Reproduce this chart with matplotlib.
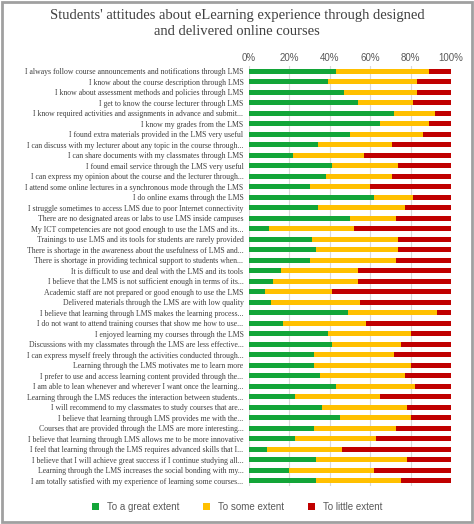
import matplotlib
matplotlib.use("Agg")
import matplotlib.pyplot as plt
from matplotlib.patches import Rectangle

labels = [
"I always follow course announcements and notifications through LMS",
"I know about the course description through LMS",
"I know about assessment methods and policies through LMS",
"I get to know the course lecturer through LMS",
"I know required activities and assignments in advance and submit...",
"I know my grades from the LMS",
"I found extra materials provided in the LMS very useful",
"I can discuss with my lecturer about any topic in the course through...",
"I can share documents with my classmates through LMS",
"I found email service through the LMS very useful",
"I can express my opinion about the course and the lecturer through...",
"I attend some online lectures in a synchronous mode through the LMS",
"I do online exams through the LMS",
"I struggle sometimes to access LMS due to poor Internet connectivity",
"There are no designated areas or labs to use LMS inside campuses",
"My ICT competencies are not good enough to use the LMS and its...",
"Trainings to use LMS and its tools for students are rarely provided",
"There is shortage in the awareness about the usefulness of LMS and...",
"There is shortage in providing technical support to students when...",
"It is difficult to use and deal with the LMS and its tools",
"I believe that the LMS is not sufficient enough in terms of its...",
"Academic staff are not prepared or good enough to use the LMS",
"Delivered materials through the LMS are with low quality",
"I believe that learning through LMS makes the learning process...",
"I do not want to attend training courses that show me how to use...",
"I enjoyed learning my courses through the LMS",
"Discussions with my classmates through the LMS are less effective...",
"I can express myself freely through the activities conducted through...",
"Learning through the LMS motivates me to learn more",
"I prefer to use and access learning content provided through the...",
"I am able to lean whenever and wherever I want once the learning...",
"Learning through the LMS reduces the interaction between students...",
"I will recommend to my classmates to study courses that are...",
"I believe that learning through LMS provides me with the...",
"Courses that are provided through the LMS are more interesting...",
"I believe that learning through LMS allows me to be more innovative",
"I feel that learning through the LMS requires advanced skills that I...",
"I believe that I will achieve great success if I continue studying all...",
"Learning through the LMS increases the social bonding with my...",
"I am totally satisfied with my experience of learning some courses...",
]
great = [43,39,47,54,72,65,50,34,22,41,38,30,62,34,50,10,31,33,30,16,12,8,11,49,17,39,41,32,32,35,43,23,36,45,32,23,9,33,20,33]
cum_some = [89,83,83,81,92,89,86,71,57,74,71,60,81,77,73,52,74,74,73,54,54,41,55,93,58,80,75,72,80,77,82,65,78,80,73,63,46,78,62,75]
some = [c - g for c, g in zip(cum_some, great)]
little = [100 - c for c in cum_some]

plt.rcParams['font.family'] = ['Liberation Serif', 'DejaVu Serif']
fig = plt.figure(figsize=(4.74, 5.24), dpi=100)
fig.patches.append(Rectangle((0.004, 0.004), 0.992, 0.992, transform=fig.transFigure,
                             fill=False, edgecolor='#a0a0a0', linewidth=2))
ax = fig.add_axes([249/474, 1-486/524, 202/474, (486-66)/524])
y = list(range(len(labels)))
h = 0.5
ax.barh(y, great, height=h, color='#13a538', label='To a great extent')
ax.barh(y, some, left=great, height=h, color='#ffc000', label='To some extent')
ax.barh(y, little, left=cum_some, height=h, color='#c00000', label='To little extent')
ax.set_ylim(len(labels)-0.5, -0.5)
ax.set_xlim(0, 100)
ax.set_xticks(range(0, 101, 20))
ax.set_xticklabels([f"{v}%" for v in range(0, 101, 20)], fontsize=7, color='#595959',
                   family=['Liberation Sans'])
ax.xaxis.tick_top()
ax.tick_params(axis='x', length=0, pad=2)
ax.set_yticks(y)
ax.set_yticklabels(labels, fontsize=5.6, color='#404040')
ax.tick_params(axis='y', length=0, pad=4)
ax.grid(axis='x', color='#d9d9d9', linewidth=0.8)
ax.set_axisbelow(True)
for s in ax.spines.values():
    s.set_visible(False)
fig.text(0.5, 0.955, "Students' attitudes about eLearning experience through designed\nand delivered online courses",
         ha='center', va='center', fontsize=10.5, color='#404040', linespacing=1.25)
fig.legend(loc='center', bbox_to_anchor=(0.5, 1-507/524), ncol=3, frameon=False,
           handlelength=0.7, handleheight=0.7, columnspacing=2.5,
           prop={'family': 'Liberation Sans', 'size': 7}, labelcolor='#595959')
fig.savefig('out.png', dpi=100)
